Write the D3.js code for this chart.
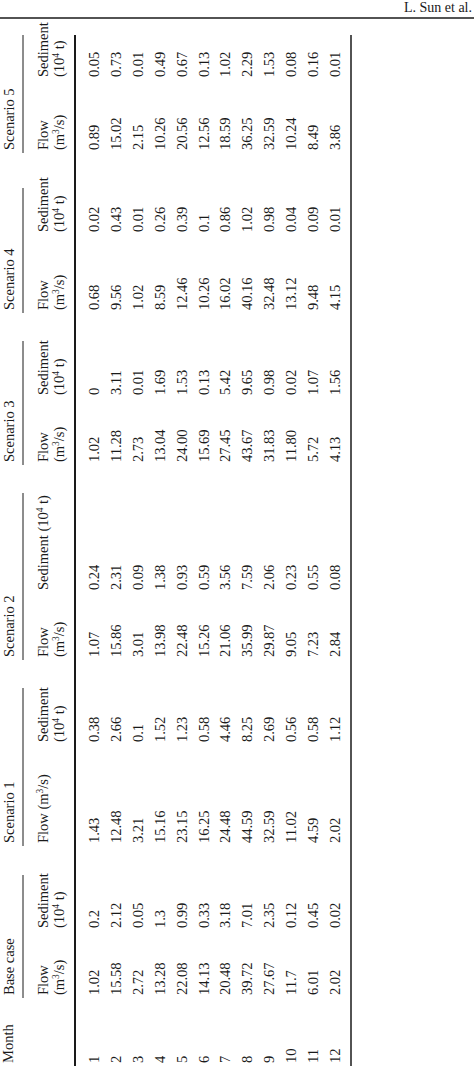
<!DOCTYPE html>
<html><head><meta charset="utf-8">
<script src="https://cdn.jsdelivr.net/npm/d3@7"></script>
<style>body{margin:0;background:#fff}text{font-family:"Liberation Serif","DejaVu Serif",serif;fill:#1a1a1a}</style>
</head><body><div id="tbl"></div>
<script>
const months = ["1","2","3","4","5","6","7","8","9","10","11","12"];
const groups = ["Base case","Scenario 1","Scenario 2","Scenario 3","Scenario 4","Scenario 5"];
const baseFlow = ["1.02","15.58","2.72","13.28","22.08","14.13","20.48","39.72","27.67","11.7","6.01","2.02"];
const baseSed  = ["0.2","2.12","0.05","1.3","0.99","0.33","3.18","7.01","2.35","0.12","0.45","0.02"];
const s1Flow = ["1.43","12.48","3.21","15.16","23.15","16.25","24.48","44.59","32.59","11.02","4.59","2.02"];
const s1Sed  = ["0.38","2.66","0.1","1.52","1.23","0.58","4.46","8.25","2.69","0.56","0.58","1.12"];
const s2Flow = ["1.07","15.86","3.01","13.98","22.48","15.26","21.06","35.99","29.87","9.05","7.23","2.84"];
const s2Sed  = ["0.24","2.31","0.09","1.38","0.93","0.59","3.56","7.59","2.06","0.23","0.55","0.08"];
const s3Flow = ["1.02","11.28","2.73","13.04","24.00","15.69","27.45","43.67","31.83","11.80","5.72","4.13"];
const s3Sed  = ["0","3.11","0.01","1.69","1.53","0.13","5.42","9.65","0.98","0.02","1.07","1.56"];
const s4Flow = ["0.68","9.56","1.02","8.59","12.46","10.26","16.02","40.16","32.48","13.12","9.48","4.15"];
const s4Sed  = ["0.02","0.43","0.01","0.26","0.39","0.1","0.86","1.02","0.98","0.04","0.09","0.01"];
const s5Flow = ["0.89","15.02","2.15","10.26","20.56","12.56","18.59","36.25","32.59","10.24","8.49","3.86"];
const s5Sed  = ["0.05","0.73","0.01","0.49","0.67","0.13","1.02","2.29","1.53","0.08","0.16","0.01"];

const width = 474, height = 1066, fs = 14.5;
const svg = d3.select("#tbl").append("svg").attr("width", width).attr("height", height);

// rows run left to right in the rotated table
const x = d3.scalePoint().domain(months).range([99, 340]);

// column starts (bottom of rotated text)
const cols = [
  {start: 1063, vals: months, head: "month"},
  {start: 995, vals: baseFlow, head: "flow2"}, {start: 928, vals: baseSed, head: "sed2"},
  {start: 843, vals: s1Flow, head: "flow1"},   {start: 742, vals: s1Sed, head: "sed2"},
  {start: 657, vals: s2Flow, head: "flow2"},   {start: 590, vals: s2Sed, head: "sed1"},
  {start: 462, vals: s3Flow, head: "flow2"},   {start: 395, vals: s3Sed, head: "sed2"},
  {start: 310, vals: s4Flow, head: "flow2"},   {start: 232, vals: s4Sed, head: "sed2"},
  {start: 150, vals: s5Flow, head: "flow2"},   {start: 77, vals: s5Sed, head: "sed2"}
];

function addLine(px, py, parts) {
  const t = svg.append("text").attr("font-size", fs)
    .attr("transform", `translate(${px},${py}) rotate(-90)`);
  parts.forEach(p => {
    if (p.sup) t.append("tspan").attr("font-size", fs * 0.65).attr("dy", -5).text(p.sup);
    else t.append("tspan").attr("dy", p.reset ? 5 : 0).text(p.t);
  });
  return t;
}

const flowTop = [{t:"Flow"}];
const flowUnit = [{t:"(m"},{sup:"3"},{t:"/s)", reset:true}];
const flowOne = [{t:"Flow (m"},{sup:"3"},{t:"/s)", reset:true}];
const sedTop = [{t:"Sediment"}];
const sedUnit = [{t:"(10"},{sup:"4"},{t:" t)", reset:true}];
const sedOne = [{t:"Sediment (10"},{sup:"4"},{t:" t)", reset:true}];

cols.forEach(c => {
  svg.append("g").selectAll("text").data(c.vals).join("text")
    .attr("font-size", fs)
    .attr("transform", (d, i) => `translate(${x(months[i])},${c.start}) rotate(-90)`)
    .text(d => d);
  if (c.head === "flow2") { addLine(48, c.start, flowTop); addLine(64, c.start, flowUnit); }
  else if (c.head === "sed2") { addLine(48, c.start, sedTop); addLine(64, c.start, sedUnit); }
  else if (c.head === "flow1") addLine(48, c.start, flowOne);
  else if (c.head === "sed1") addLine(48, c.start, sedOne);
  else addLine(13, c.start, [{t:"Month"}]);
});

// group headers with underline
const groupEnds = [875, 688, 493, 341, 188, 35];
groups.forEach((g, i) => {
  const s = cols[1 + i * 2].start;
  addLine(14, s, [{t: g}]);
  svg.append("line").attr("x1", 23).attr("x2", 23).attr("y1", s + 3).attr("y2", groupEnds[i])
    .attr("stroke", "#1a1a1a").attr("stroke-width", 1);
});

// rules
svg.append("line").attr("x1", 75).attr("x2", 75).attr("y1", 35).attr("y2", height)
  .attr("stroke", "#1a1a1a").attr("stroke-width", 2);
svg.append("line").attr("x1", 351).attr("x2", 351).attr("y1", 35).attr("y2", height)
  .attr("stroke", "#1a1a1a").attr("stroke-width", 1.5);
svg.append("line").attr("x1", 0).attr("x2", width).attr("y1", 18).attr("y2", 18)
  .attr("stroke", "#1a1a1a").attr("stroke-width", 1.5);
svg.append("text").attr("x", 472).attr("y", 12).attr("text-anchor", "end")
  .attr("font-size", 14).text("L. Sun et al.");
</script></body></html>
